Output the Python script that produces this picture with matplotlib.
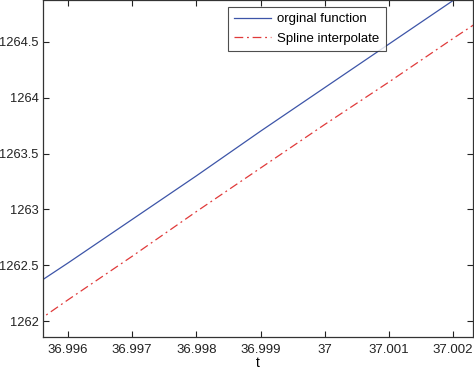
import matplotlib
matplotlib.use("Agg")
import matplotlib.pyplot as plt

t = [36.9955, 36.996, 36.997, 36.998, 36.999, 37.000, 37.001, 37.002, 37.0025]
original = [1262.33, 1262.52, 1262.91, 1263.30, 1263.70, 1264.09, 1264.48, 1264.87, 1265.07]
spline = [1261.99, 1262.19, 1262.58, 1262.98, 1263.37, 1263.76, 1264.14, 1264.53, 1264.72]

xticks = [36.996, 36.997, 36.998, 36.999, 37.000, 37.001, 37.002]
xticklabels = ["36.996", "36.997", "36.998", "36.999", "37", "37.001", "37.002"]
yticks = [1262, 1262.5, 1263, 1263.5, 1264, 1264.5]
yticklabels = ["1262", "1262.5", "1263", "1263.5", "1264", "1264.5"]

plt.rcParams['font.family'] = ['Liberation Sans', 'DejaVu Sans']
fig = plt.figure(figsize=(4.74, 3.70), dpi=100)
ax = fig.add_axes([0.0907, 0.0892, 0.907, 0.9108])

ax.plot(t, original, color='#3d55a8', lw=0.9, label='orginal function')
ax.plot(t, spline, color='#e03a3a', lw=0.9, linestyle=(0, (7, 3, 1.5, 3)), label='Spline interpolate')

ax.set_xlim(36.99561, 37.00231)
ax.set_ylim(1261.857, 1264.875)
ax.set_xticks(xticks)
ax.set_xticklabels(xticklabels, fontsize=9.5)
ax.set_yticks(yticks)
ax.set_yticklabels(yticklabels, fontsize=9.3)
ax.tick_params(direction='in', top=True, right=True, length=4, width=0.8, colors='#222222')
ax.tick_params(axis='y', pad=3)
ax.tick_params(axis='x', pad=5)
for s in ax.spines.values():
    s.set_linewidth(0.9)
    s.set_color('#333333')
ax.set_xlabel('t', fontsize=10, labelpad=0)

leg = ax.legend(loc='upper left', bbox_to_anchor=(0.43, 0.979), fontsize=9.5, frameon=True,
                fancybox=False, edgecolor='#222222', handlelength=2.8, borderpad=0.45,
                labelspacing=0.55, handletextpad=0.5, borderaxespad=0)
leg.get_frame().set_linewidth(0.8)

fig.savefig('out.png', dpi=100)
